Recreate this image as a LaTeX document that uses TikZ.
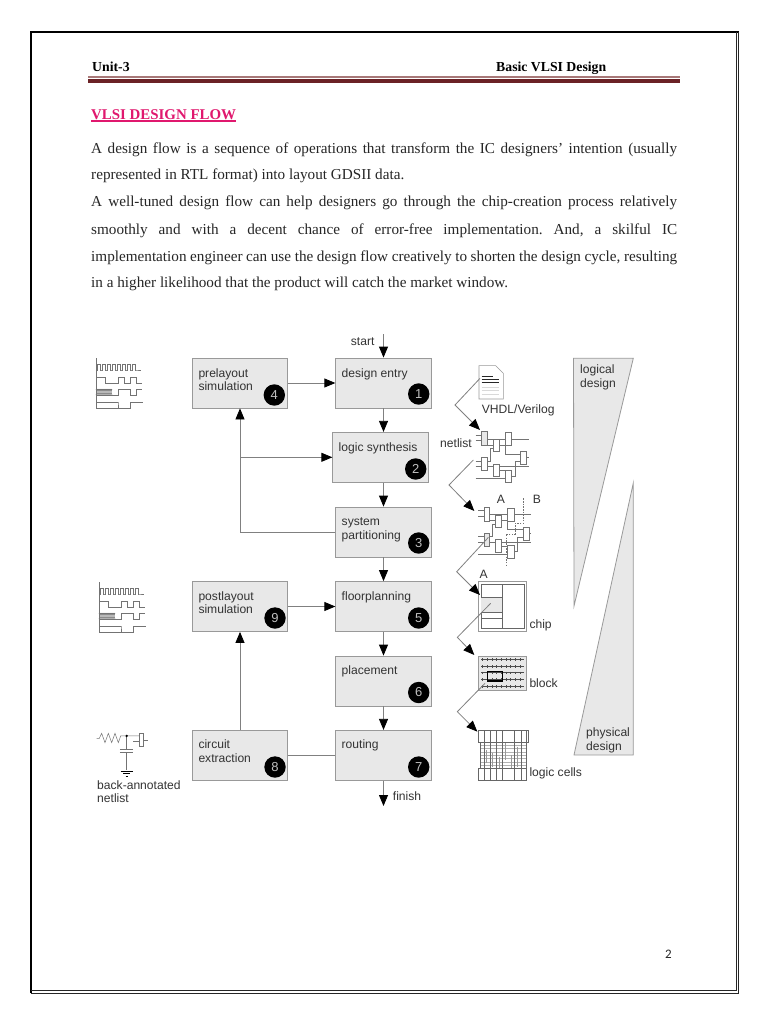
\documentclass[tikz,border=0pt]{standalone}
\usepackage{fontspec}
\setmainfont{Liberation Serif}
\newfontfamily\diagf{Liberation Sans}
\newfontfamily\pagef{Carlito}
\usetikzlibrary{arrows.meta}
\definecolor{linegray}{HTML}{808080}
\definecolor{boxfill}{HTML}{E8E8E8}
\definecolor{boxedge}{HTML}{999999}
\definecolor{txt}{HTML}{333333}
\definecolor{pinkt}{HTML}{E0186E}
\definecolor{ruledark}{HTML}{6B2226}
\definecolor{rulelight}{HTML}{A87878}
\tikzset{
 conn/.style={draw=linegray,line width=.8pt},
 arr/.style={conn,-{Triangle[length=11pt,width=9pt,color=black]}},
 flowbox/.style={draw=boxedge,fill=boxfill,line width=.8pt,minimum width=95.5pt,minimum height=50pt,inner sep=0pt},
 num/.style={circle,fill=black,minimum size=21.4pt,inner sep=0pt,text=white!75!black,font=\diagf\fontsize{13}{13}\selectfont},
 lbl/.style={anchor=north west,inner sep=0pt,align=left,text=txt,font=\diagf\fontsize{12.1}{12.5}\selectfont},
 one/.style={anchor=base west,inner sep=0pt,text=txt,font=\diagf\fontsize{12.1}{12.5}\selectfont},
 bodyl/.style={anchor=base west,inner sep=0pt,text=black!85,font=\fontsize{15.2}{15}\selectfont\frenchspacing},
 ic/.style={draw=black!55,line width=.5pt},
 cell/.style={draw=black!55,line width=.5pt,fill=white},
 wedge/.style={draw=boxedge,fill=boxfill,line width=.8pt},
}
\newcommand{\wave}{%
 \draw[ic] (0,0) -- (0,50);
 \draw[ic] (0,12) foreach \i in {0,...,7} { -- ++(1,0) -- ++(0,-6) -- ++(3,0) -- ++(0,6) -- ++(1,0)} -- (45,12);
 \draw[ic] (0,19) -- (9,19) -- (9,25) -- (22,25) -- (22,19) -- (28,19) -- (28,25) -- (34,25) -- (34,19) -- (40,19) -- (40,25) -- (46,25);
 \draw[ic] (0,31) -- (16,31) (0,37) -- (16,37);
 \foreach \i in {0,2,...,14} {\draw[ic] (\i,31) -- (\i+2,37) (\i,37) -- (\i+2,31);}
 \draw[ic] (16,37) -- (22,37) -- (22,31) -- (34,31) -- (34,37) -- (40,37) -- (40,31) -- (46,31);
 \draw[ic] (0,50) -- (22,50) -- (22,44) -- (22,50) -- (34,50) -- (34,44) -- (47,44);
 \draw[ic] (0,44) -- (22,44);
}
\newcommand{\netl}[2]{%
 \draw[ic] (137,255) -- (155,255) (137,272) -- (155,272);
 \draw[ic] (172,267) -- (225,267) (245,267) -- (297,267);
 \draw[ic] (172,285) -- (190,285) (208,285) -- (225,285) -- (225,312) -- (272,312);
 \draw[ic] (190,295) -- (180,295) -- (180,333) -- (172,333);
 \draw[ic] (290,323) -- (297,323) (290,350) -- (297,350);
 \draw[ic] (137,333) -- (155,333) (137,350) -- (155,350);
 \draw[ic] (172,350) -- (190,350) (208,350) -- (290,350);
 \draw[ic] (208,362) -- (225,362) (245,378) -- (255,378) -- (255,335) -- (272,335);
 \draw[ic] (137,385) -- (225,385);
 \draw[cell,fill=#1] (155,245) rectangle (172,287);
 \draw[cell] (225,247) rectangle (245,287);
 \draw[cell] (190,268) rectangle (208,305);
 \draw[cell] (272,305) rectangle (290,343);
 \draw[cell,fill=#2] (155,322) rectangle (172,362);
 \draw[cell] (190,342) rectangle (208,380);
 \draw[cell] (225,360) rectangle (245,398);
}
\begin{document}
\begin{tikzpicture}[x=1pt,y=-1pt]
\useasboundingbox (0,0) rectangle (768,1024);
\fill[white] (0,0) rectangle (768,1024);
% page border
\draw[black,line width=2pt] (31,993) -- (31,32) -- (738.5,32);
\draw[black!85,line width=1pt] (738.5,32) -- (738.5,993) -- (31,993);
\draw[black!85,line width=1pt] (736,32) -- (736,990.5) -- (31,990.5);
% header
\node[anchor=base west,inner sep=0pt,font=\bfseries\fontsize{13.75}{14}\selectfont] (unit) at (92,71.5) {Unit-3};
\node[anchor=base west,inner sep=0pt,font=\bfseries\fontsize{13.75}{14}\selectfont] (basic) at (496,71.5) {Basic VLSI Design};
\fill[rulelight] (88,76.3) rectangle (680,78);
\fill[ruledark] (88,79.3) rectangle (680,82.7);
\node[anchor=base west,inner sep=0pt,text=pinkt,font=\bfseries\fontsize{14.9}{15}\selectfont] (title) at (91,119.5) {VLSI DESIGN FLOW};
\fill[pinkt] (91,120.5) rectangle (236,122);
% body
\node[bodyl] (b1) at (91,153.3) {\makebox[586pt][s]{A design flow is a sequence of operations that transform the IC designers’ intention (usually}};
\node[bodyl] (b2) at (91,180) {represented in RTL format) into layout GDSII data.};
\node[bodyl] (b3) at (91,206.7) {\makebox[586pt][s]{A well-tuned design flow can help designers go through the chip-creation process relatively}};
\node[bodyl] (b4) at (91,234) {\makebox[586pt][s]{smoothly and with a decent chance of error-free implementation. And, a skilful IC}};
\node[bodyl] (b5) at (91,261) {\makebox[586pt][s]{implementation engineer can use the design flow creatively to shorten the design cycle, resulting}};
\node[bodyl] (b6) at (91,287.5) {in a higher likelihood that the product will catch the market window.};
% flow boxes
\node[flowbox] (de) at (383.5,383) {};
\node[flowbox] (ls) at (380.5,457.3) {};
\node[flowbox] (sp) at (383.5,532) {};
\node[flowbox] (fp) at (383.5,606.5) {};
\node[flowbox] (pl) at (383.5,681) {};
\node[flowbox] (rt) at (383.5,755.3) {};
\node[flowbox] (pre) at (240,383) {};
\node[flowbox] (post) at (240,606.5) {};
\node[flowbox] (cx) at (240,755.3) {};
\node[lbl] (tde) at (341.5,368.2) {\strut design entry};
\node[lbl] (tls) at (338.5,442.5) {\strut logic synthesis};
\node[lbl] (tsp) at (341.5,516.7) {\strut system\\partitioning};
\node[lbl] (tfp) at (341.5,591.2) {\strut floorplanning};
\node[lbl] (tpl) at (341.5,665.7) {\strut placement};
\node[lbl] (trt) at (341.5,740) {\strut routing};
\node[lbl] (tpre) at (198.3,368.2) {\strut prelayout\\simulation};
\node[lbl] (tpost) at (198.3,591.2) {\strut postlayout\\simulation};
\node[lbl] (tcx) at (198.3,740) {\strut circuit\\extraction};
\node[num] (n1) at (418.7,394) {1};
\node[num] (n2) at (415.7,469) {2};
\node[num] (n3) at (418.7,543) {3};
\node[num] (n5) at (418.7,618) {5};
\node[num] (n6) at (418.7,692.5) {6};
\node[num] (n7) at (418.7,767) {7};
\node[num] (n4) at (274.3,395) {4};
\node[num] (n9) at (275,618) {9};
\node[num] (n8) at (275,767) {8};
% flow connectors
\coordinate (startc) at (383.5,334);
\coordinate (finc) at (383.5,806);
\node[one] (tstart) at (350.7,345.7) {start};
\node[one] (tfin) at (392.7,800.7) {finish};
\draw[arr] (startc) -- (de.north);
\draw[arr] (de.south) -- (de.south |- ls.north);
\draw[arr] (sp.north |- ls.south) -- (sp.north);
\draw[arr] (sp.south) -- (fp.north);
\draw[arr] (fp.south) -- (pl.north);
\draw[arr] (pl.south) -- (rt.north);
\draw[arr] (rt.south) -- (finc);
\draw[arr] (pre.east) -- (de.west);
\draw[arr] (post.east) -- (fp.west);
\draw[arr] (sp.west) -| (pre.south);
\draw[arr] (pre.south |- ls.west) -- (ls.west);
\draw[arr] (cx.north) -- (post.south);
\draw[conn] (rt.west) -- (cx.east);
% waveforms
\begin{scope}[shift={(96,358)}]\wave\end{scope}
\begin{scope}[shift={(99,582)}]\wave\end{scope}
% back-annotated netlist
\begin{scope}[shift={(80,570)},x=.3333pt,y=-.3333pt]
 \draw[ic] (50,505) -- (58,505) -- (65,490) -- (75,518) -- (85,490) -- (95,518) -- (105,490) -- (115,518) -- (122,498) -- (178,498);
 \draw[ic] (160,515) -- (178,515) (190,510) -- (205,510);
 \draw[ic] (140,498) -- (140,538) (120,538) -- (160,538) (120,547) -- (160,547) (140,547) -- (140,600);
 \draw[cell] (178,490) rectangle (190,528);
 \fill[black] (140,498) circle[radius=4];
 \draw[black,line width=.9pt] (122,603) -- (158,603) (130,611) -- (150,611) (137,619) -- (143,619);
\end{scope}
\node[lbl] (tback) at (97,780.3) {\strut back-annotated\\netlist};
% document icon
\begin{scope}[shift={(430,350)},x=.3333pt,y=-.3333pt]
 \draw[draw=boxedge,fill=white,line width=.6pt] (147,47) -- (197,47) -- (220,70) -- (220,147) -- (147,147) -- cycle;
 \draw[black!85,line width=.9pt] (155,78) -- (190,78) (155,87) -- (208,87) (155,97) -- (208,97);
 \draw[black!15,line width=.4pt] (155,112) -- (208,112) (155,122) -- (208,122) (155,132) -- (208,132);
 \netl{boxfill}{white}
 \coordinate (docp) at (150,85);
 \coordinate (d1) at (75,165);
 \coordinate (d1t) at (150,240);
 \coordinate (nl1) at (130,330);
 \coordinate (d2) at (57,405);
 \coordinate (d2t) at (133,483);
\end{scope}
\begin{scope}[shift={(432.4,425.7)},x=.3333pt,y=-.3333pt]
 \netl{white}{boxfill}
 \coordinate (nl2) at (168,335);
\end{scope}
\begin{scope}[shift={(430,350)},x=.3333pt,y=-.3333pt]
 \draw[ic,dash pattern=on 1.5pt off 1.2pt] (280,445) -- (280,520) -- (255,520) -- (255,552) -- (228,552) -- (228,650);
\end{scope}
\node[one] (tvhdl) at (481.7,413.3) {VHDL/Verilog};
\node[one] (tnet) at (440,447.3) {netlist};
\node[one] (ta) at (496.7,503.3) {A};
\node[one] (tb) at (532.7,503.3) {B};
\node[one] (ta2) at (479.3,578) {A};
% chip, block, cells
\begin{scope}[shift={(440,560)},x=.3333pt,y=-.3333pt]
 \draw[draw=boxedge,fill=white,line width=.8pt] (115,65) rectangle (259,214);
 \draw[draw=black!60,line width=.6pt] (123,73) rectangle (252,206);
 \fill[boxfill] (123,112) rectangle (187,157);
 \draw[draw=black!60,line width=.6pt] (187,73) -- (187,206) (123,112) -- (187,112) (123,157) -- (187,157) (123,176) -- (187,176);
 \coordinate (chipp) at (152,130);
 \coordinate (c1) at (52,232);
 \coordinate (c1t) at (103,285);
 % block
 \draw[draw=boxedge,fill=boxfill,line width=.8pt] (115,290) rectangle (259,390);
 \foreach \y in {298,319,338,358,378} {
  \draw[black!70,line width=.5pt] (123,\y) -- (252,\y);
  \foreach \x in {128,143,158,168,185,198,212,225,240} {\draw[black!70,line width=.4pt] (\x,\y-3) -- (\x,\y+5);}
 }
 \draw[black,line width=1.1pt] (143,335) rectangle (188,363);
 \coordinate (blockp) at (135,370);
 \coordinate (c2) at (52,455);
 \coordinate (c2t) at (112,515);
 % logic cells
 \foreach \y in {556,566,576,586,596,606,616} {\draw[black!30,line width=.35pt] (120,\y) -- (262,\y);}
 \draw[draw=black!60,line width=.5pt] (115,512) rectangle (266,548);
 \draw[draw=black!60,line width=.5pt] (115,625) rectangle (258,660);
 \foreach \x in {133,150,168,187,223,243,258} {\draw[black!60,line width=.5pt] (\x,512) -- (\x,660);}
 \draw[black!60,line width=.5pt] (122,548) -- (122,625) (266,512) -- (266,548);
 \draw[black!40,line width=.4pt] (140,570) -- (140,610) (158,580) -- (158,620) (178,590) -- (178,625) (197,550) -- (197,600) (213,585) -- (213,625) (232,560) -- (232,620);
\end{scope}
\node[one] (tchip) at (529.3,628.3) {chip};
\node[one] (tblock) at (529.3,687.3) {block};
\node[one] (tcells) at (529.3,776.7) {logic cells};
% side connectors
\draw[arr] (docp) -- (d1) -- (d1t);
\draw[arr] (nl1) -- (d2) -- (d2t);
\coordinate (d3) at (456.7,571.7);
\coordinate (d3t) at (480,595);
\draw[arr] (nl2) -- (d3) -- (d3t);
\draw[arr] (chipp) -- (c1) -- (c1t);
\draw[arr] (blockp) -- (c2) -- (c2t);
% wedges
\draw[wedge] (573.5,358.3) -- (633.3,358.3) -- (574,606) -- cycle;
\draw[wedge] (633.3,483) -- (633.3,755) -- (574,755) -- cycle;
\node[lbl] (tlog) at (580,364.6) {\strut logical\\design};
\node[lbl] (tphy) at (586,728) {\strut physical\\design};
% page number
\node[anchor=base west,inner sep=0pt,text=black!85,font=\pagef\fontsize{13}{13}\selectfont] (pg) at (665,958.3) {2};
\end{tikzpicture}
\end{document}
